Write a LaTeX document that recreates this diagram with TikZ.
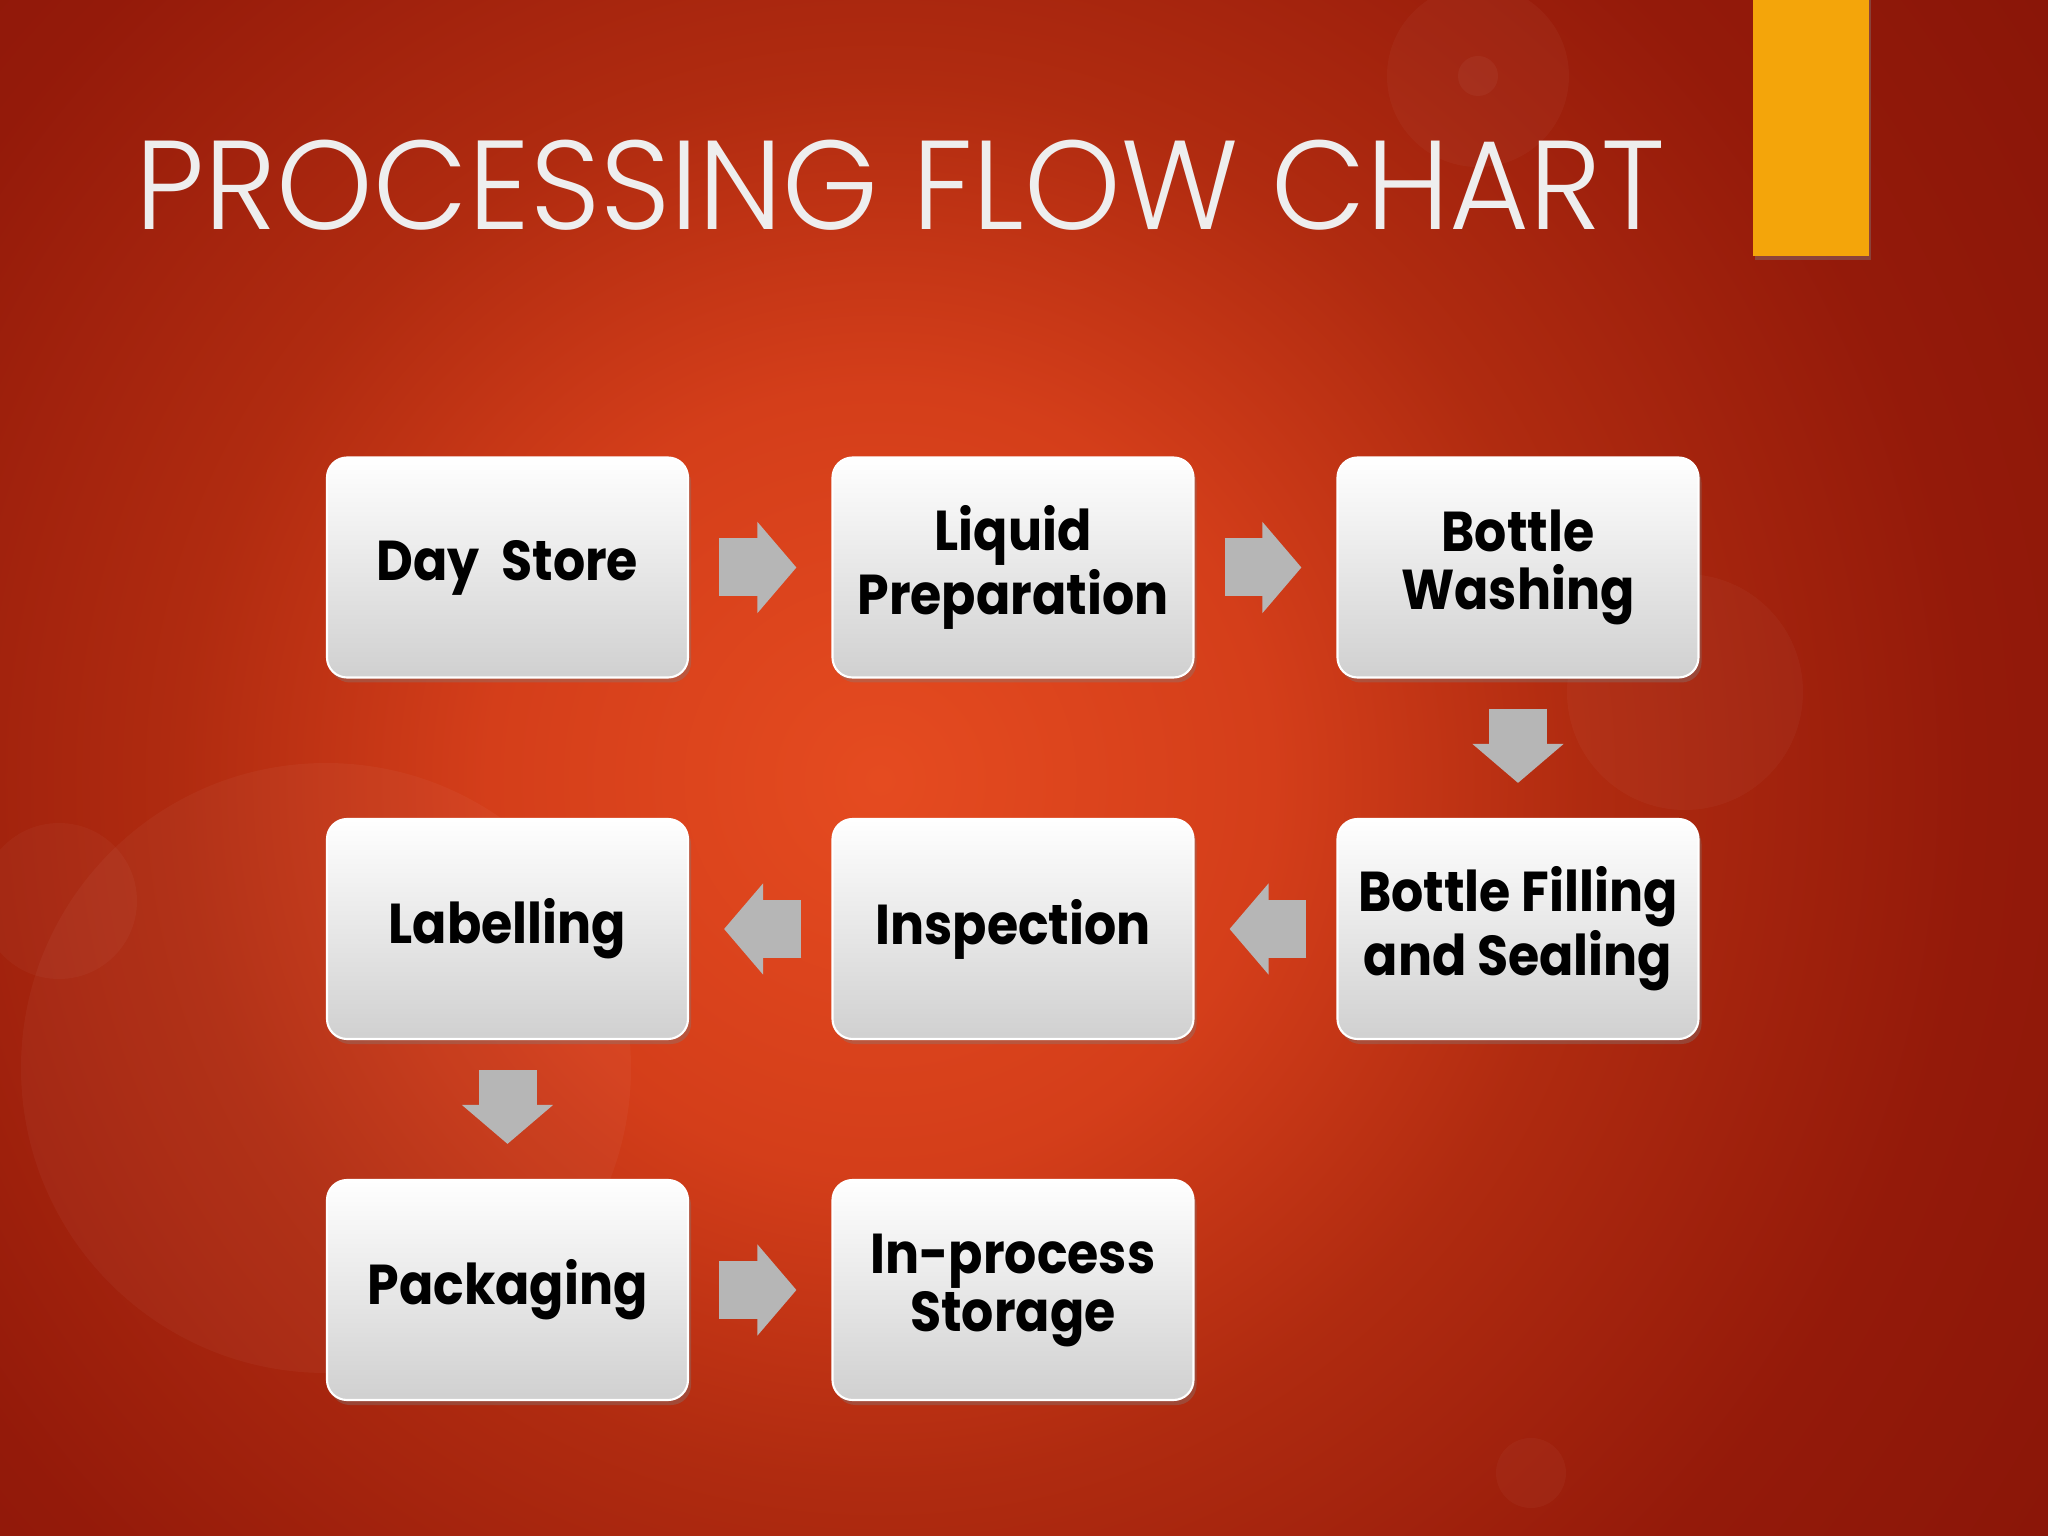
\documentclass[tikz,border=0pt]{standalone}
\usepackage{fontspec}
\setsansfont{Poppins}[FakeStretch=0.9]
\newfontfamily\titlefont{Poppins Light}[FakeStretch=0.97]
\usetikzlibrary{arrows.meta,positioning,shadows}
\definecolor{slidedark}{RGB}{138,22,8}
\definecolor{glowA}{RGB}{229,75,32}
\definecolor{glowB}{RGB}{212,62,26}
\definecolor{glowC}{RGB}{176,43,16}
\definecolor{glowD}{RGB}{148,26,10}
\definecolor{barorange}{RGB}{244,165,10}
\definecolor{titlegray}{RGB}{238,238,238}
\definecolor{arrowgray}{RGB}{182,182,182}
\definecolor{boxgray}{RGB}{208,208,208}
\pgfdeclareradialshading{slideglow}{\pgfpoint{0bp}{0bp}}{color(0bp)=(glowA); color(7bp)=(glowB); color(12.5bp)=(glowC); color(19.5bp)=(glowD); color(25bp)=(slidedark); color(50bp)=(slidedark)}
\tikzset{
  stepbox/.style={draw=white, line width=0.6pt, rounded corners=0.2cm,
                  top color=white, bottom color=boxgray,
                  minimum width=3.61cm, minimum height=2.2cm, align=center,
                  font=\sffamily\bfseries\fontsize{16}{16.5}\selectfont,
                  drop shadow={shadow xshift=0.03cm, shadow yshift=-0.05cm, opacity=0.35}},
  flow/.style={line width=0.58cm, arrowgray, shorten <=0.3cm, shorten >=0.35cm,
               -{Triangle[width=0.89cm, length=0.39cm]}},
  bokeh/.style={fill=white, opacity=#1},
}

\begin{document}
\begin{tikzpicture}

% Slide background
\useasboundingbox (0,0) rectangle (20.48,-15.36);
\clip (0,0) rectangle (20.48,-15.36);
\fill[slidedark] (0,0) rectangle (20.48,-15.36);
\shade[shading=slideglow] (8.8,-7.8) circle (14cm);
\fill[bokeh=0.03] (14.78,-0.76) circle (0.91cm);
\fill[bokeh=0.04] (14.78,-0.76) circle (0.2cm);
\fill[bokeh=0.03] (16.85,-6.92) circle (1.18cm);
\fill[bokeh=0.035] (3.26,-10.68) circle (3.05cm);
\fill[bokeh=0.03] (0.59,-9.01) circle (0.78cm);
\fill[bokeh=0.03] (15.31,-14.73) circle (0.35cm);
\fill[barorange, drop shadow={shadow xshift=0.02cm, shadow yshift=-0.04cm, opacity=0.4}] (17.53,0.1) rectangle (18.69,-2.56);

% Title
\node[font=\titlefont\fontsize{36}{36}\selectfont, text=titlegray, anchor=base west,
      inner sep=0pt] (title) at (1.35,-2.30) {PROCESSING FLOW CHART};

% Row 1
\node[stepbox] (day) at (5.075,-5.675) {Day~~Store};
\node[stepbox] (liquid) at (10.13,-5.675) {Liquid\\Preparation};
\node[stepbox] (washing) at (15.18,-5.675) {Bottle\\Washing};

% Row 2
\node[stepbox] (filling) at (15.18,-9.29) {Bottle Filling\\and Sealing};
\node[stepbox] (inspect) at (10.13,-9.29) {Inspection};
\node[stepbox] (label) at (5.075,-9.29) {Labelling};

% Row 3
\node[stepbox] (pack) at (5.075,-12.9) {Packaging};
\node[stepbox] (storage) at (10.13,-12.9) {In-process\\Storage};

% Flow arrows
\draw[flow] (day) -- (liquid);
\draw[flow] (liquid) -- (washing);
\draw[flow] (washing) -- (filling);
\draw[flow] (filling) -- (inspect);
\draw[flow] (inspect) -- (label);
\draw[flow] (label) -- (pack);
\draw[flow] (pack) -- (storage);

\end{tikzpicture}
\end{document}
